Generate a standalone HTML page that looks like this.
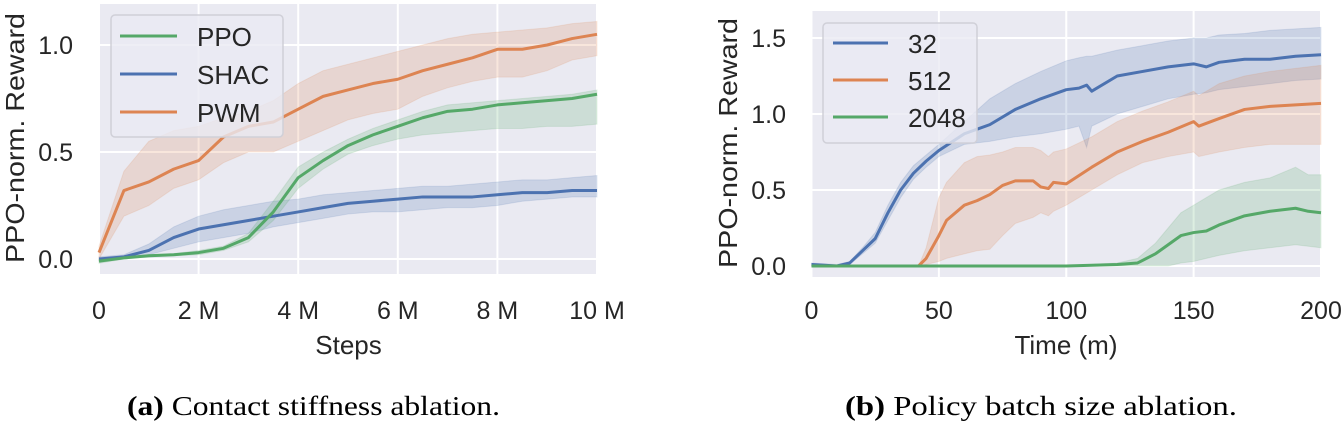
<!DOCTYPE html>
<html><head><meta charset="utf-8"><style>
html,body{margin:0;padding:0;background:#fff;width:1342px;height:424px;overflow:hidden}
svg{display:block}
text{font-family:"Liberation Sans",sans-serif;fill:#262626}
.cap{font-family:"Liberation Serif",serif;font-size:27px;fill:#000}
</style></head><body>
<svg id="fig" width="1342" height="424" xmlns="http://www.w3.org/2000/svg">
<text class="cap" x="127" y="415" textLength="373" lengthAdjust="spacingAndGlyphs"><tspan font-weight="bold">(a)</tspan> Contact stiffness ablation.</text>
<text class="cap" x="845" y="415" textLength="392" lengthAdjust="spacingAndGlyphs"><tspan font-weight="bold">(b)</tspan> Policy batch size ablation.</text>
</svg>
<script>
// ---- Chart A data ----
const aSteps=[0,0.5,1,1.5,2,2.5,3,3.5,4,4.5,5,5.5,6,6.5,7,7.5,8,8.5,9,9.5,10];
const aPWM=[0.03,0.32,0.36,0.42,0.46,0.57,0.62,0.64,0.70,0.76,0.79,0.82,0.84,0.88,0.91,0.94,0.98,0.98,1.00,1.03,1.05];
const aPWMlo=[0.0,0.2,0.25,0.33,0.37,0.45,0.5,0.5,0.55,0.6,0.65,0.68,0.7,0.76,0.8,0.83,0.85,0.85,0.88,0.93,0.95];
const aPWMhi=[0.06,0.41,0.55,0.6,0.62,0.66,0.69,0.74,0.82,0.88,0.91,0.94,0.97,1.0,1.03,1.05,1.06,1.07,1.08,1.1,1.11];
const aPPO=[-0.01,0.005,0.015,0.02,0.03,0.05,0.10,0.22,0.38,0.46,0.53,0.58,0.62,0.66,0.69,0.70,0.72,0.73,0.74,0.75,0.77];
const aPPOlo=[-0.02,0,0.01,0.015,0.02,0.04,0.08,0.18,0.33,0.42,0.49,0.53,0.56,0.58,0.59,0.6,0.61,0.61,0.62,0.62,0.63];
const aPPOhi=[0,0.01,0.02,0.025,0.04,0.06,0.12,0.27,0.43,0.5,0.56,0.61,0.65,0.69,0.72,0.73,0.74,0.75,0.76,0.77,0.79];
const aSHAC=[0.0,0.01,0.04,0.10,0.14,0.16,0.18,0.20,0.22,0.24,0.26,0.27,0.28,0.29,0.29,0.29,0.30,0.31,0.31,0.32,0.32];
const aSHAClo=[-0.01,0,0.02,0.05,0.08,0.1,0.12,0.15,0.17,0.19,0.21,0.22,0.22,0.23,0.24,0.24,0.25,0.27,0.28,0.29,0.29];
const aSHAChi=[0.01,0.02,0.07,0.15,0.2,0.23,0.25,0.27,0.28,0.3,0.31,0.32,0.33,0.34,0.34,0.35,0.36,0.37,0.37,0.38,0.39];
const aXTicks=[0,2,4,6,8,10];
const aXLabels=["0","2 M","4 M","6 M","8 M","10 M"];
const aYTicks=[0,0.5,1.0];
const aYLabels=["0.0","0.5","1.0"];
const aNames=["PPO","SHAC","PWM"];
// ---- Chart B data ----
const b32x=[0,10,15,20,25,30,35,40,45,50,60,70,80,90,100,105,108,110,120,130,140,150,155,160,170,180,190,200];
const b32=[0.01,0,0.02,0.1,0.18,0.35,0.5,0.61,0.69,0.76,0.87,0.93,1.03,1.1,1.16,1.17,1.19,1.15,1.25,1.28,1.31,1.33,1.31,1.34,1.36,1.36,1.38,1.39];
const b32lo=[0,0,0.01,0.08,0.15,0.3,0.45,0.57,0.65,0.72,0.8,0.82,0.85,0.87,0.9,0.92,0.78,0.92,1.0,1.05,1.1,1.13,1.14,1.16,1.18,1.2,1.22,1.23];
const b32hi=[0.02,0.01,0.03,0.12,0.22,0.4,0.55,0.66,0.73,0.8,0.95,1.1,1.2,1.28,1.35,1.37,1.38,1.38,1.42,1.45,1.48,1.5,1.5,1.52,1.53,1.55,1.56,1.57];
const b512x=[0,42,45,50,53,60,65,70,75,80,87,90,93,95,100,110,120,130,140,150,152,160,170,180,190,200];
const b512=[0,0,0.05,0.2,0.3,0.4,0.43,0.47,0.53,0.56,0.56,0.52,0.51,0.55,0.54,0.65,0.75,0.82,0.88,0.95,0.92,0.97,1.03,1.05,1.06,1.07];
const b512lo=[0,0,0.01,0.03,0.05,0.08,0.1,0.11,0.2,0.28,0.32,0.35,0.33,0.36,0.4,0.5,0.6,0.68,0.72,0.75,0.72,0.75,0.78,0.8,0.8,0.8];
const b512hi=[0,0,0.12,0.45,0.55,0.68,0.72,0.73,0.75,0.78,0.78,0.76,0.72,0.75,0.77,0.85,0.95,1.02,1.08,1.15,1.12,1.2,1.25,1.28,1.3,1.32];
const b2048x=[0,100,120,128,135,140,145,150,155,160,170,180,190,195,200];
const b2048=[0,0,0.01,0.02,0.08,0.14,0.2,0.22,0.23,0.27,0.33,0.36,0.38,0.36,0.35];
const b2048lo=[0,0,0,0,0,0,0.02,0.03,0.05,0.07,0.1,0.12,0.14,0.13,0.12];
const b2048hi=[0,0,0.02,0.05,0.15,0.25,0.35,0.4,0.45,0.5,0.55,0.58,0.65,0.6,0.6];
const bXTicks=[0,50,100,150,200];
const bYTicks=[0,0.5,1.0,1.5];
const bYLabels=["0.0","0.5","1.0","1.5"];
const bNames=["32","512","2048"];

const NS="http://www.w3.org/2000/svg";
const svg=document.getElementById('fig');
const C={blue:"#4c72b0",orange:"#dd8452",green:"#55a868"};
function mk(tag,attrs,parent){const e=document.createElementNS(NS,tag);for(const k in attrs)e.setAttribute(k,attrs[k]);(parent||svg).appendChild(e);return e;}

function chart(opt){
  const g=mk('g',{});
  
  
  const X=v=>opt.x0+(v-opt.xmin)/(opt.xmax-opt.xmin)*(opt.x1-opt.x0);
  const Y=v=>opt.y0-(v-opt.ymin)/(opt.ymax-opt.ymin)*(opt.y0-opt.y1);
  const bg=mk('rect',{x:opt.left,y:opt.top,width:opt.right-opt.left,height:opt.bottom-opt.top,fill:"#eaeaf2"},g);
  
  
  opt.xticks.forEach((t,i)=>{
    const l=mk('line',{x1:X(t),x2:X(t),y1:opt.top,y2:opt.bottom,stroke:"#fff","stroke-width":2},g);
    
    
    const tx=mk('text',{x:X(t),y:319,"font-size":25,"text-anchor":"middle"},g);
    tx.textContent=opt.xlabels[i];
    
    
  });
  opt.yticks.forEach((t,i)=>{
    const l=mk('line',{x1:opt.left,x2:opt.right,y1:Y(t),y2:Y(t),stroke:"#fff","stroke-width":2},g);
    
    
    const tx=mk('text',{x:opt.left-26,y:Y(t)+9,"font-size":25,"text-anchor":"end"},g);
    tx.textContent=opt.ylabels[i];
    
    
  });
  opt.series.forEach(s=>{
    let d="";
    s.x.forEach((v,i)=>{d+=(i?"L":"M")+X(v)+","+Y(s.hi[i]);});
    for(let i=s.x.length-1;i>=0;i--)d+="L"+X(s.x[i])+","+Y(s.lo[i]);
    const b=mk('path',{d:d+"Z",fill:s.c,"fill-opacity":0.2,stroke:s.c,"stroke-opacity":0.15},g);
    
    
  });
  opt.series.forEach(s=>{
    const pts=s.x.map((v,i)=>X(v)+","+Y(s.y[i])).join(" ");
    const p=mk('polyline',{points:pts,fill:"none",stroke:s.c,"stroke-width":3,"stroke-linejoin":"round"},g);
    
    
  });
  const L=opt.legend;
  const lg=mk('g',{},g);
  
  
  mk('rect',{x:L.x,y:L.y,width:L.w,height:L.h,rx:4,fill:"#eaeaf2","fill-opacity":0.8,stroke:"#d0d0d8","stroke-width":1.5},lg);
  L.items.forEach((it,i)=>{
    const yy=L.ys[i];
    const ln=mk('line',{x1:L.lx0,x2:L.lx1,y1:yy,y2:yy,stroke:it.c,"stroke-width":3},lg);
    
    
    const t=mk('text',{x:L.tx,y:yy+10,"font-size":26},lg);
    t.textContent=it.n;
    
    
  });
  const xl=mk('text',{x:(opt.left+opt.right)/2,y:354,"font-size":26,"text-anchor":"middle"},g);
  xl.textContent=opt.xtitle;
  
  
  const yc=opt.ytc;
  const yl=mk('text',{x:opt.ytx,y:yc,"font-size":26,"text-anchor":"middle",textLength:250,lengthAdjust:"spacingAndGlyphs",transform:`rotate(-90 ${opt.ytx} ${yc})`},g);
  yl.textContent="PPO-norm. Reward";
  
  
}

chart({name:"chart-contact-stiffness",left:99,right:598,top:4,bottom:274,x0:99,x1:597,xmin:0,xmax:10,y0:259,y1:45,ymin:0,ymax:1,
  xticks:aXTicks,xlabels:aXLabels,yticks:aYTicks,ylabels:aYLabels,xtitle:"Steps",ytx:24,ytc:138,
  series:[{n:"pwm",c:C.orange,x:aSteps,y:aPWM,lo:aPWMlo,hi:aPWMhi},{n:"shac",c:C.blue,x:aSteps,y:aSHAC,lo:aSHAClo,hi:aSHAChi},{n:"ppo",c:C.green,x:aSteps,y:aPPO,lo:aPPOlo,hi:aPPOhi}],
  legend:{x:111,y:15,w:172,h:122,lx0:120,lx1:177,tx:197,ys:[36,74,112],items:[{n:aNames[0],c:C.green},{n:aNames[1],c:C.blue},{n:aNames[2],c:C.orange}]}});

chart({name:"chart-batch-size",left:812,right:1320,top:11,bottom:277,x0:811.5,x1:1321,xmin:0,xmax:200,y0:266,y1:190,ymin:0,ymax:0.5,
  xticks:bXTicks,xlabels:bXTicks.map(String),yticks:bYTicks,ylabels:bYLabels,xtitle:"Time (m)",ytx:737,ytc:143,
  series:[{n:"32",c:C.blue,x:b32x,y:b32,lo:b32lo,hi:b32hi},{n:"512",c:C.orange,x:b512x,y:b512,lo:b512lo,hi:b512hi},{n:"2048",c:C.green,x:b2048x,y:b2048,lo:b2048lo,hi:b2048hi}],
  legend:{x:823,y:23,w:154,h:120,lx0:833,lx1:888,tx:908,ys:[43,80,117],items:[{n:bNames[0],c:C.blue},{n:bNames[1],c:C.orange},{n:bNames[2],c:C.green}]}});
</script>
</body></html>
